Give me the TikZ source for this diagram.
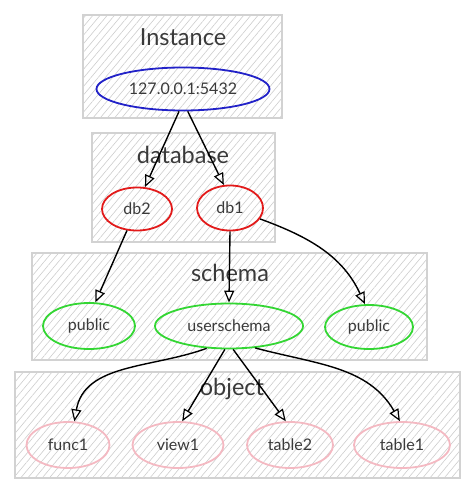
\documentclass[tikz,border=0pt]{standalone}
\usepackage{fontspec}
\setmainfont{Lato}
\usetikzlibrary{arrows.meta,shapes.geometric,patterns.meta,backgrounds}
\definecolor{boxline}{HTML}{D2D2D2}
\definecolor{hatch}{HTML}{CDCDCD}
\definecolor{txt}{HTML}{3A3A3A}
\definecolor{cblue}{HTML}{2222C8}
\definecolor{cred}{HTML}{E21A1A}
\definecolor{cgreen}{HTML}{33D633}
\definecolor{cpink}{HTML}{F4B9C2}
\tikzset{
  layer/.style={draw=boxline, line width=1.2pt,
    pattern={Lines[angle=50,distance=5.5pt,line width=0.6pt]}, pattern color=hatch},
  title/.style={text=txt, font=\fontsize{23.5}{28}\selectfont},
  item/.style={ellipse, line width=1.8pt, text=txt, inner sep=0pt,
    font=\fontsize{16}{19}\selectfont},
  conn/.style={draw=black, line width=1.4pt, -{Triangle[open,length=12pt,width=10pt,line width=1.2pt]}}
}
\begin{document}
\begin{tikzpicture}[x=1pt,y=-1pt]
\useasboundingbox (0,0) rectangle (474,494);
% layers
\path[layer] (83,15) rectangle (282,118);
\path[layer] (92,133) rectangle (275,242);
\path[layer] (32,253) rectangle (427,360);
\path[layer] (15,372) rectangle (460,478);
% titles
\node[title] (tInst) at (183,37) {Instance};
\node[title] (tDb) at (183,155) {database};
\node[title] (tSch) at (230,273) {schema};
\node[title] (tObj) at (232,389) {object};
% nodes
\node[item, draw=cblue, minimum width=173pt, minimum height=43pt] (inst) at (183,89) {127.0.0.1:5432};
\node[item, draw=cred, minimum width=70pt, minimum height=43pt] (db2) at (137,209) {db2};
\node[item, draw=cred, minimum width=66pt, minimum height=45pt] (db1) at (230,208) {db1};
\node[item, draw=cgreen, minimum width=92pt, minimum height=46pt] (pub1) at (89,326) {public};
\node[item, draw=cgreen, minimum width=148pt, minimum height=45pt] (usch) at (229,326) {userschema};
\node[item, draw=cgreen, minimum width=88pt, minimum height=44pt] (pub2) at (369,327) {public};
\node[item, draw=cpink, minimum width=83pt, minimum height=46pt] (func1) at (68,445) {func1};
\node[item, draw=cpink, minimum width=91pt, minimum height=46pt] (view1) at (178,445) {view1};
\node[item, draw=cpink, minimum width=86pt, minimum height=46pt] (table2) at (290,445) {table2};
\node[item, draw=cpink, minimum width=96pt, minimum height=46pt] (table1) at (402,445) {table1};
% connectors
\draw[conn] (inst.-100) -- (db2.70);
\draw[conn] (inst.-78) -- (db1.105);
\draw[conn] (db2.-115) -- (pub1.75);
\draw[conn] (db1.south) -- (usch.north);
\draw[conn] (db1.-20) to[out=-20,in=115] (pub2.100);
\draw[conn] (usch.-135) to[out=200,in=80] (func1.75);
\draw[conn] (usch.-100) -- (view1.80);
\draw[conn] (usch.-80) -- (table2.100);
\draw[conn] (usch.-40) to[out=-15,in=120] (table1.95);
\end{tikzpicture}
\end{document}
